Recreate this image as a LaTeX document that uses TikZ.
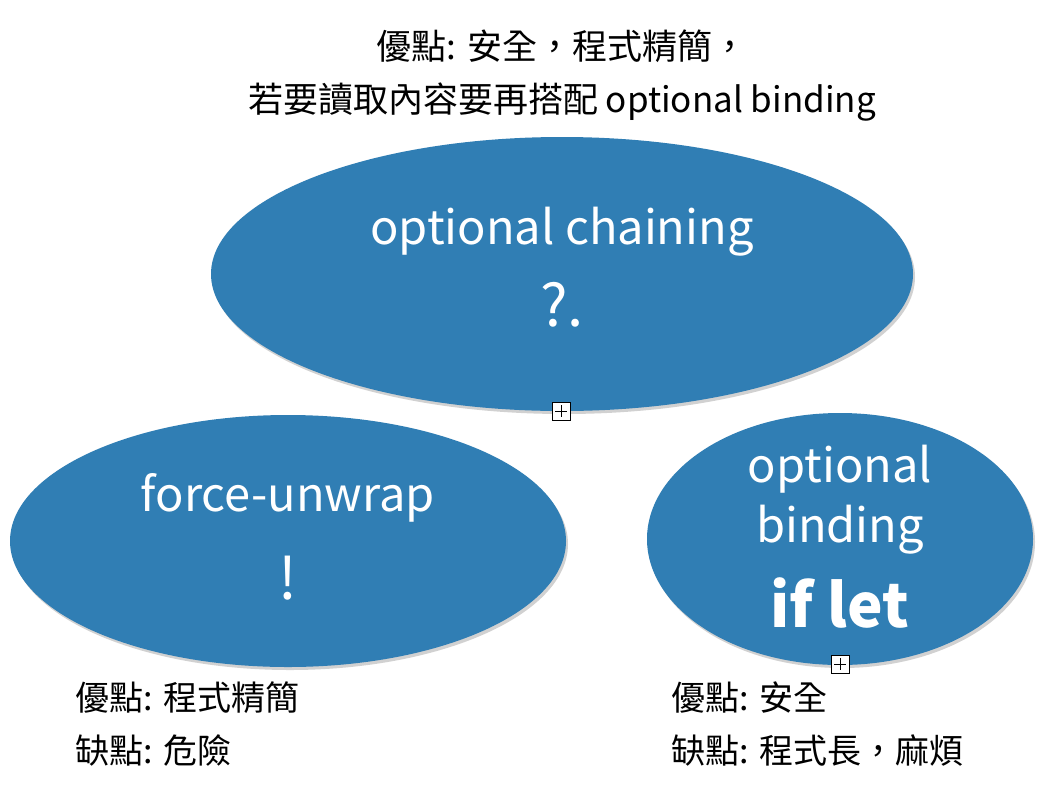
\documentclass[tikz,border=0pt]{standalone}
\usepackage{fontspec}
\setmainfont{Noto Sans CJK TC}
\begin{document}
\begin{tikzpicture}[x=1pt,y=-1pt,
  blob/.style={fill=ebl,draw=none},
  wt/.style={text=white,align=center,font=\fontsize{47}{60}\selectfont},
  lbl/.style={anchor=west,font=\fontsize{34}{53}\selectfont,align=left},
  plusbox/.style={draw=black,fill=white,minimum size=18pt,inner sep=0pt,line width=1pt}]
\definecolor{ebl}{RGB}{48,126,180}
\useasboundingbox[fill=white] (0,0) rectangle (1052,788);
\fill[black!18] (564,277) ellipse [x radius=351,y radius=137];
\fill[black!18] (290,544) ellipse [x radius=278,y radius=126];
\fill[black!18] (842,542) ellipse [x radius=193,y radius=126];
\fill[blob] (562,274) ellipse [x radius=351,y radius=137];
\fill[blob] (288,541) ellipse [x radius=278,y radius=126];
\fill[blob] (840,539) ellipse [x radius=193,y radius=126];
\node[wt] (oc) at (562,232) {optional chaining};
\node[wt,font=\fontsize{58}{60}\selectfont] (ocs) at (562,305) {?.};
\node[wt] (fu) at (288,498) {force-unwrap};
\node[wt,font=\fontsize{58}{60}\selectfont] (fus) at (288,578) {!};
\node[wt] (ob) at (840,500) {optional\\binding};
\node[wt,font=\bfseries\fontsize{60}{60}\selectfont] (obs) at (840,603) {if let};
\node[align=center,font=\fontsize{35}{53}\selectfont] (top) at (562,76) {優點: 安全，程式精簡，\\若要讀取內容要再搭配 optional binding};
\node[lbl] (l1) at (72,724) {優點: 程式精簡\\缺點: 危險};
\node[lbl] (l2) at (668,724) {優點: 安全\\缺點: 程式長，麻煩};
\node[plusbox] (p1) at (561,411) {};
\draw (p1.center) ++(-6,0) -- ++(12,0) (p1.center) ++(0,-6) -- ++(0,12);
\node[plusbox] (p2) at (840,664) {};
\draw (p2.center) ++(-6,0) -- ++(12,0) (p2.center) ++(0,-6) -- ++(0,12);
\end{tikzpicture}
\end{document}
